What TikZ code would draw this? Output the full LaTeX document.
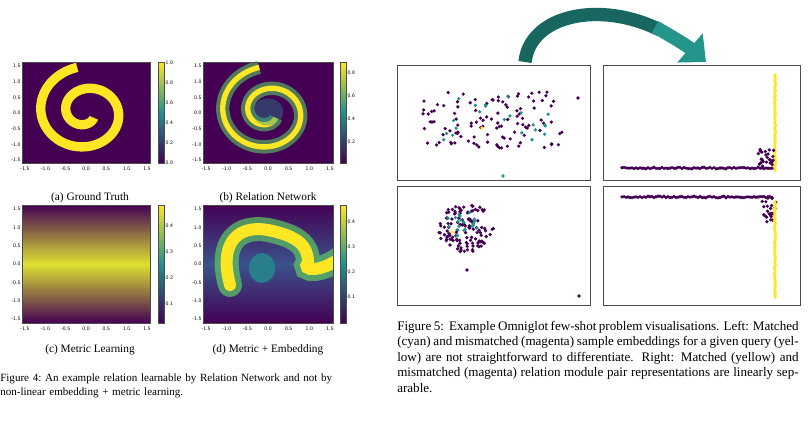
\documentclass[tikz,border=0pt]{standalone}
\usepackage{fontspec}
\setmainfont{Liberation Serif}
\usetikzlibrary{arrows.meta}
\definecolor{vpur}{HTML}{440154}
\definecolor{vblue}{HTML}{3B528B}
\definecolor{vteal}{HTML}{21918C}
\definecolor{vgreen}{HTML}{5EC962}
\definecolor{vyel}{HTML}{FDE725}
\definecolor{arr}{HTML}{23958A}
\definecolor{arrd}{HTML}{17665F}
\begin{document}
\begin{tikzpicture}[x=0.75pt,y=-0.75pt,
  tick/.style={font=\fontsize{4}{4}\selectfont\sffamily,inner sep=1pt},
  captxt/.style={font=\fontsize{8.5}{10}\selectfont,inner sep=0pt},
  frame/.style={draw=black!70,line width=0.4pt}]
\useasboundingbox (0,0) rectangle (808,422);
\fill[white] (0,0) rectangle (808,422);
% ---------- heatmap panels ----------
\newcommand{\axesx}[3]{% x0 x1 ybottom
  \foreach \v/\t in {0/-1.5,1/-1.0,2/-0.5,3/0.0,4/0.5,5/1.0,6/1.5}{
    \node[tick] at ({#1+\v*(#2-#1)/6},{#3+6}) {\t};}}
\newcommand{\axesy}[3]{% ytop ybottom xleft
  \foreach \v/\t in {0/1.5,1/1.0,2/0.5,3/0.0,4/-0.5,5/-1.0,6/-1.5}{
    \node[tick,anchor=east] at ({#3},{#1+\v*(#2-#1)/6}) {\t};}}
\newcommand{\spiral}{plot[domain=-20:560,samples=120,smooth] ({(0.2+0.8*(560-\x)/580)*cos(\x+120)},{(0.2+0.8*(560-\x)/580)*sin(\x+120)})}
% (a)
\fill[vpur] (22,62) rectangle (150,163);
\begin{scope}[shift={(86,112)},x=38pt,y=34pt]
\draw[vyel,line width=7pt] \spiral;
\end{scope}
\draw[frame] (22,62) rectangle (150,163);
\axesx{25}{147}{163}\axesy{66}{160}{22}
\shade[top color=vyel,bottom color=vpur,middle color=vteal] (158,62) rectangle (164,163);
\draw[frame] (158,62) rectangle (164,163);
\foreach \v/\t in {0/1.0,1/0.8,2/0.6,3/0.4,4/0.2,5/0.0}\node[tick,anchor=west] at (164,{63+\v*20}) {\t};
\node[captxt] (ca) at (90,198) {(a) Ground Truth};
% (b)
\fill[vpur] (203,62) rectangle (333,163);
\begin{scope}[shift={(268,112)},x=38pt,y=34pt]
\draw[vgreen,line width=10pt,opacity=0.6] \spiral;
\draw[vyel,line width=4pt] \spiral;
\fill[vteal,opacity=0.4] (0,0) circle (0.3);
\end{scope}
\draw[frame] (203,62) rectangle (333,163);
\axesx{206}{330}{163}\axesy{66}{160}{203}
\shade[top color=vyel,bottom color=vpur,middle color=vteal] (340,62) rectangle (346,163);
\draw[frame] (340,62) rectangle (346,163);
\foreach \v/\t in {0/0.8,1/0.6,2/0.4,3/0.2}\node[tick,anchor=west] at (346,{73+\v*23}) {\t};
\node[captxt] (cb) at (268,198) {(b) Relation Network};
% (c)
\shade[top color=vpur,bottom color=vpur,middle color=vyel!80!vgreen] (22,205) rectangle (150,323);
\draw[frame] (22,205) rectangle (150,323);
\axesx{25}{147}{323}\axesy{209}{319}{22}
\shade[top color=vyel,bottom color=vpur,middle color=vteal] (158,205) rectangle (164,323);
\draw[frame] (158,205) rectangle (164,323);
\foreach \v/\t in {0/0.4,1/0.3,2/0.2,3/0.1}\node[tick,anchor=west] at (164,{226+\v*26}) {\t};
\node[captxt] (cc) at (90,350) {(c) Metric Learning};
% (d)
\shade[top color=vpur,bottom color=vpur,middle color=vblue] (203,205) rectangle (333,323);
\begin{scope}
\clip (203,205) rectangle (333,323);
\draw[vgreen,line width=18pt,opacity=0.7,line cap=round] (230,285) .. controls (218,240) and (240,225) .. (268,230) .. controls (298,236) and (308,246) .. (308,262) .. controls (300,272) and (322,272) .. (340,258);
\draw[vyel,line width=9pt,line cap=round] (230,285) .. controls (218,240) and (240,225) .. (268,230) .. controls (298,236) and (308,246) .. (308,262) .. controls (300,272) and (322,272) .. (340,258);
\fill[vteal!70!vblue] (262,268) ellipse (13 and 15);
\end{scope}
\draw[frame] (203,205) rectangle (333,323);
\axesx{206}{330}{323}\axesy{209}{319}{203}
\shade[top color=vyel,bottom color=vpur,middle color=vteal] (340,205) rectangle (346,323);
\draw[frame] (340,205) rectangle (346,323);
\foreach \v/\t in {0/0.4,1/0.3,2/0.2,3/0.1}\node[tick,anchor=west] at (346,{222+\v*25}) {\t};
\node[captxt] (cd) at (268,350) {(d) Metric + Embedding};
\node[captxt,anchor=north west,text width=262pt,font=\fontsize{8.3}{10}\selectfont] (f4) at (0,374)
 {Figure 4:\ An example relation learnable by Relation Network and not by non-linear embedding + metric learning.};
% ---------- scatter panels ----------
\draw[frame] (397,65) rectangle (590,180);
\draw[frame] (603,65) rectangle (800,180);
\draw[frame] (397,186) rectangle (590,305);
\draw[frame] (603,186) rectangle (800,305);
\pgfmathsetseed{7}
\foreach \i in {1,...,110}{\pgfmathsetmacro\px{492+72*rand}\pgfmathsetmacro\py{120+28*rand}\fill[vpur] (\px,\py) circle (1.8);}
\foreach \i in {1,...,22}{\pgfmathsetmacro\px{495+55*rand}\pgfmathsetmacro\py{118+22*rand}\fill[vteal] (\px,\py) circle (1.8);}
\fill[vteal] (503,176) circle (1.8); \fill[vpur] (578,98) circle (1.8); \fill[vyel] (482,128) circle (1.8);
% top right
\foreach \i in {0,...,50}\fill[vyel] ({775+0.6*rand},{75+\i*1.9}) circle (1.8);
\foreach \i in {0,...,75}\fill[vpur] ({622+\i*2},{168+0.8*rand}) circle (1.8);
\foreach \i in {1,...,25}{\pgfmathsetmacro\px{766+8*rand}\pgfmathsetmacro\py{158+10*rand}\fill[vpur] (\px,\py) circle (1.8);}
% bottom left
\foreach \i in {1,...,120}{\pgfmathsetmacro\ang{180*rand}\pgfmathsetmacro\rr{sqrt(rnd)}\fill[vpur] ({466+28*\rr*cos(\ang)},{228+24*\rr*sin(\ang)}) circle (1.8);}
\foreach \i in {1,...,22}{\pgfmathsetmacro\ang{180*rand}\pgfmathsetmacro\rr{sqrt(rnd)}\fill[vteal] ({462+16*\rr*cos(\ang)},{224+14*\rr*sin(\ang)}) circle (1.8);}
\fill[vyel] (452,232) circle (1.8); \fill[vpur] (579,296) circle (1.8); \fill[vpur] (467,270) circle (1.8);
% bottom right
\foreach \i in {0,...,75}\fill[vpur] ({622+\i*2},{197+0.8*rand}) circle (1.8);
\foreach \i in {1,...,25}{\pgfmathsetmacro\px{768+8*rand}\pgfmathsetmacro\py{210+12*rand}\fill[vpur] (\px,\py) circle (1.8);}
\foreach \i in {0,...,50}\fill[vyel] ({775+0.6*rand},{202+\i*1.9}) circle (1.8);
% arrow
\coordinate (as) at (525,62);
\coordinate (ae) at (706,62);
\draw[arrd,line width=10pt] (as) .. controls (530,15) and (600,0) .. (660,30);
\draw[arr,line width=10pt,-{Triangle[length=16pt,width=28pt]}] (655,27) .. controls (675,38) and (690,48) .. (ae);
\node[captxt,anchor=north west,text width=301pt,align=justify,font=\fontsize{9.8}{11.6}\selectfont] (f5) at (397,321)
 {Figure 5:\ \ Example Omniglot few-shot problem visualisations. Left: Matched (cyan) and mismatched (magenta) sample embeddings for a given query (yellow) are not straightforward to differentiate. Right: Matched (yellow) and mismatched (magenta) relation module pair representations are linearly separable.};
\end{tikzpicture}
\end{document}
